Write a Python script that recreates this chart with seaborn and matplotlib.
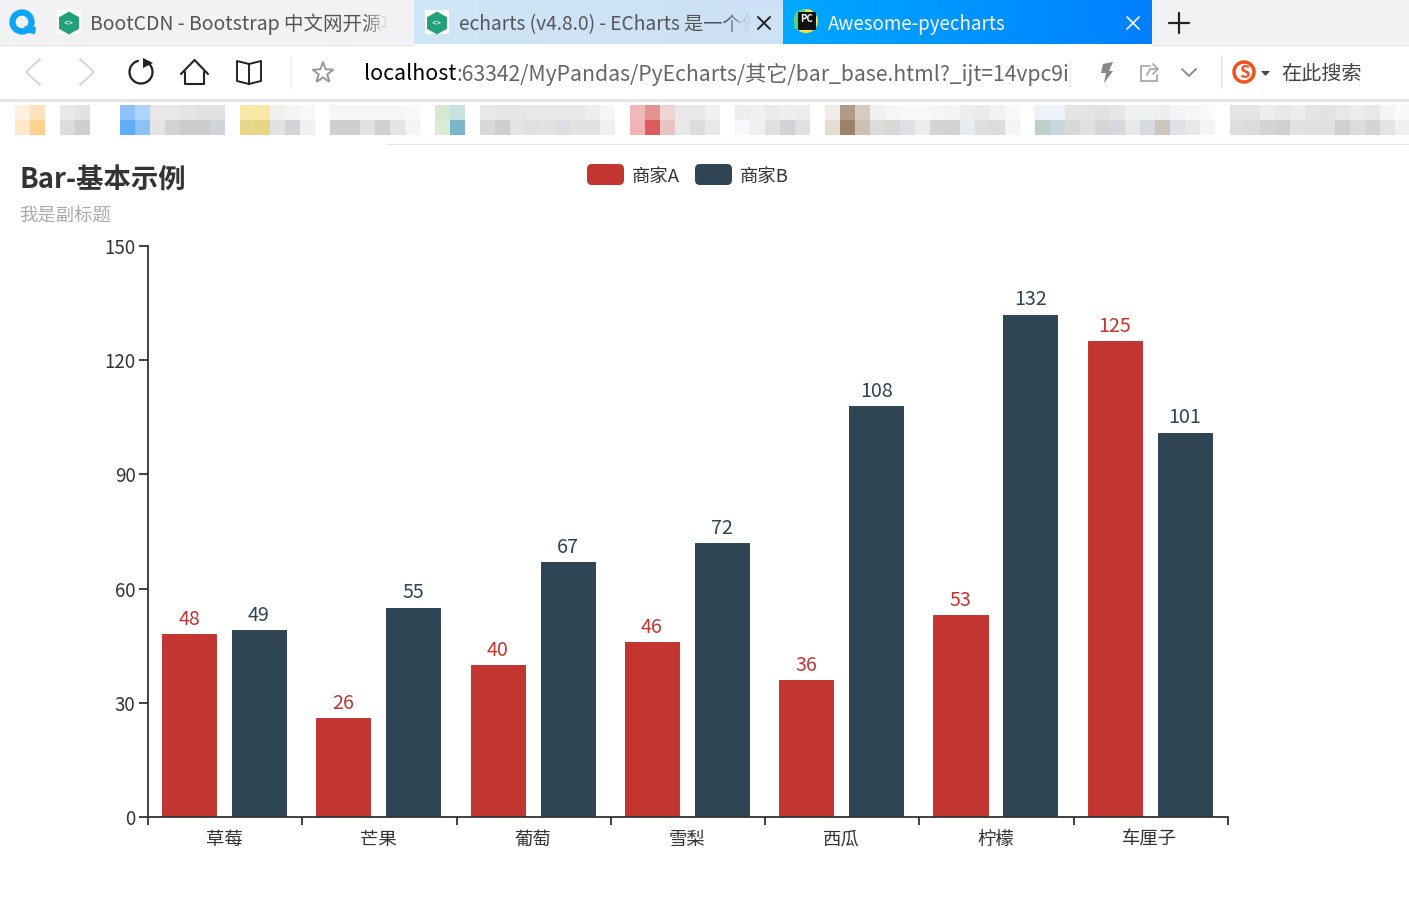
import matplotlib
matplotlib.use('Agg')
import numpy as np
import pandas as pd
import matplotlib.pyplot as plt
import seaborn as sns
from matplotlib.patches import Rectangle, FancyBboxPatch, Circle, Polygon, RegularPolygon

# Chart values
fruits = ['草莓', '芒果', '葡萄', '雪梨', '西瓜', '柠檬', '车厘子']
shop_a = [48, 26, 40, 46, 36, 53, 125]
shop_b = [49, 55, 67, 72, 108, 132, 101]
series_names = ['商家A', '商家B']
y_ticks = [0, 30, 60, 90, 120, 150]
title_text = 'Bar-基本示例'
subtitle_text = '我是副标题'

# Browser window texts
tab_titles = ['BootCDN - Bootstrap 中文网开源项', 'echarts (v4.8.0) - ECharts 是一个使', 'Awesome-pyecharts']
url_host = 'localhost'
url_rest = ':63342/MyPandas/PyEcharts/其它/bar_base.html?_ijt=14vpc9i'
search_hint = '在此搜索'

RED = '#c23531'
NAVY = '#2f4554'
AXIS = '#333333'
W, H = 1409, 899

sns.set_theme(style='white')
plt.rcParams['font.family'] = ['Noto Sans CJK SC', 'DejaVu Sans']

fig = plt.figure(figsize=(W / 100, H / 100), dpi=100, facecolor='white')

# Bar chart, placed at the pixel box of the reference
ax = fig.add_axes([148 / W, 1 - 817 / H, (1228 - 148) / W, (817 - 246) / H])
df = pd.DataFrame({
    'fruit': fruits * 2,
    'value': shop_a + shop_b,
    'shop': [series_names[0]] * len(fruits) + [series_names[1]] * len(fruits),
})
sns.barplot(data=df, x='fruit', y='value', hue='shop', palette=[RED, NAVY],
            width=0.907, gap=0.228, saturation=1, legend=False, ax=ax)

for bars, color in zip(ax.containers, [RED, NAVY]):
    ax.bar_label(bars, color=color, fontsize=14.2, padding=3)
    for bar in bars:
        bar.set_edgecolor(color)
        bar.set_linewidth(0.7)

# the reference bars and labels sit about 1 px left of the category centres
shift = 0.007
ax.set_xlim(-0.5 + shift, len(fruits) - 0.5 + shift)
ax.set_ylim(0, 150)
ax.set_yticks(y_ticks)
ax.set_xlabel('')
ax.set_ylabel('')
ax.set_xticks(range(len(fruits)))
ax.set_xticklabels(fruits)
ax.set_xticks(np.arange(-0.5 + shift, len(fruits)), minor=True)
ax.tick_params(axis='x', which='major', length=0, pad=10, labelsize=13.2, labelcolor=AXIS)
ax.tick_params(axis='x', which='minor', length=6, width=1.3, color=AXIS, bottom=True)
ax.tick_params(axis='y', length=6.5, width=1.3, color=AXIS, pad=2.5, labelsize=13.5, labelcolor=AXIS, left=True)
sns.despine(ax=ax)
for side in ['left', 'bottom']:
    ax.spines[side].set_color(AXIS)
    ax.spines[side].set_linewidth(1.3)

# Overlay in pixel coordinates for title, legend and the browser window
ov = fig.add_axes([0, 0, 1, 1], zorder=5)
ov.set_xlim(0, W)
ov.set_ylim(H, 0)
ov.axis('off')
ov.patch.set_alpha(0)

ov.text(19.5, 180, title_text, fontsize=19.7, fontweight='bold', color='#333333', va='center')
ov.text(19, 217, subtitle_text, fontsize=13.2, color='#aaaaaa', va='center')
for x, name, color in [(587, series_names[0], RED), (695, series_names[1], NAVY)]:
    ov.add_patch(FancyBboxPatch((x + 3, 167), 31, 15, boxstyle='round,pad=3,rounding_size=5', fc=color, ec='none'))
    ov.text(x + 45, 177, name, fontsize=13.2, color='#333333', va='center')


def band(x0, x1, y0, y1, c0, c1):
    # horizontal gradient between two colours
    grad = np.linspace(0, 1, 64)[None, :, None]
    a = np.array(matplotlib.colors.to_rgb(c0))[None, None, :]
    b = np.array(matplotlib.colors.to_rgb(c1))[None, None, :]
    ov.imshow(a * (1 - grad) + b * grad, extent=[x0, x1, y1, y0], aspect='auto', zorder=1)


def fade(x0, x1, y0, y1, color):
    # fades tab text out towards its right end
    steps = 14
    step = (x1 - x0) / steps
    for i in range(steps):
        ov.add_patch(Rectangle((x0 + i * step, y0), step + 0.5, y1 - y0, fc=color, ec='none',
                               alpha=(i + 1) / steps, zorder=3))


# Tab strip
band(0, W, 0, 44, '#f2f2f5', '#f2f2f5')
band(414, 783, 0, 44, '#cfe6f6', '#cde0f5')
band(783, 1152, 0, 44, '#00a8ff', '#0080ff')
ov.plot([0, 414], [44.5, 44.5], color='#e2e2e2', lw=1, zorder=2)
ov.plot([1152, W], [44.5, 44.5], color='#e2e2e2', lw=1, zorder=2)

ov.add_patch(Circle((22, 22), 9.5, fc='none', ec='#0aa5f5', lw=4.5, zorder=2))
ov.add_patch(Polygon([[24, 26], [36, 27], [35, 34], [28, 33]], fc='#0aa5f5', ec='none', zorder=2))
for cx in [69, 437]:
    ov.add_patch(Rectangle((cx - 12, 10), 24, 24, fc='white', ec='none', zorder=2))
    ov.add_patch(RegularPolygon((cx, 23), 6, radius=11.5, fc='#21a179', ec='none', zorder=3))
    ov.text(cx, 23.5, '<>', fontsize=6.5, color='white', ha='center', va='center', zorder=4)
ov.add_patch(Circle((806, 21), 12, fc='#f5e642', ec='none', zorder=2))
ov.add_patch(Polygon([[795, 12], [806, 9], [800, 30], [794, 28]], fc='#3ddc84', ec='none', zorder=2))
ov.add_patch(Rectangle((798, 12), 18, 18, fc='#111111', ec='none', zorder=3))
ov.text(807, 19, 'PC', fontsize=7, color='white', fontweight='bold', ha='center', va='center', zorder=4)

ov.text(90, 24.5, tab_titles[0], fontsize=14, color='#555555', va='center', zorder=2)
ov.text(459, 24.5, tab_titles[1], fontsize=13.8, color='#555555', va='center', zorder=2)
ov.text(828, 24.5, tab_titles[2], fontsize=13.5, color='white', va='center', zorder=2)
fade(365, 390, 8, 38, '#f2f2f5')
ov.add_patch(Rectangle((390, 8), 24, 30, fc='#f2f2f5', ec='none', zorder=3))
fade(728, 752, 8, 38, '#cde2f5')
ov.add_patch(Rectangle((752, 8), 31, 30, fc='#cde2f5', ec='none', zorder=3))

for cx, color, lw in [(764, '#222222', 1.4), (1133, 'white', 1.2)]:
    ov.plot([cx - 6, cx + 6], [17, 29], color=color, lw=lw, zorder=4)
    ov.plot([cx - 6, cx + 6], [29, 17], color=color, lw=lw, zorder=4)
ov.plot([1169, 1189], [23, 23], color='#222222', lw=1.6)
ov.plot([1179, 1179], [13, 33], color='#222222', lw=1.6)

# Toolbar icons
ov.plot([40, 26, 40], [59, 72, 85], color='#d8d8d8', lw=1.6)
ov.plot([80, 94, 80], [59, 72, 85], color='#d8d8d8', lw=1.6)
t = np.radians(np.linspace(-55, 255, 60))
ov.plot(141 + 11.5 * np.cos(t), 72 + 11.5 * np.sin(t), color='#222222', lw=1.6)
ov.add_patch(Polygon([[143, 58], [153, 63], [143, 68]], fc='#222222', ec='none'))
ov.plot([181, 194.5, 208], [74, 60, 74], color='#222222', lw=1.5)
ov.plot([185, 185, 204, 204], [72, 84, 84, 72], color='#222222', lw=1.5)
ov.plot([249, 237, 237, 249, 261, 261, 249, 249], [64, 61, 81, 84, 81, 61, 64, 84], color='#222222', lw=1.4)
ov.plot([290.5, 290.5], [56, 88], color='#eeeeee', lw=1)
star = [(323 + r * np.sin(a), 73 - r * np.cos(a))
        for a, r in zip(np.linspace(0, 2 * np.pi, 10, endpoint=False), [11, 4.5] * 5)]
ov.add_patch(Polygon(star, fc='none', ec='#999999', lw=1.4))

host = ov.text(364, 74.5, url_host, fontsize=15.4, color='#000000', va='center')
rest = ov.text(457, 74.5, url_rest, fontsize=15.25, color='#666666', va='center')
rest.set_clip_on(True)
rest.set_clip_path(Rectangle((457, 50), 611, 45, transform=ov.transData))
ov.plot([1069.5, 1069.5], [60, 86], color='#eeeeee', lw=1)

ov.add_patch(Polygon([[1103, 64], [1113, 62], [1109, 71], [1113, 71], [1104, 83], [1106, 73], [1101, 73]],
                     fc='#888888', ec='none'))
ov.plot([1150, 1141, 1141, 1157, 1157], [66, 66, 81, 81, 75], color='#aaaaaa', lw=1.3)
ov.plot([1147, 1150, 1157], [75, 69, 69], color='#aaaaaa', lw=1.3)
ov.plot([1153, 1158, 1153], [64, 69, 74], color='#aaaaaa', lw=1.3)
ov.plot([1182, 1189, 1196], [69, 76, 69], color='#888888', lw=1.3)
ov.plot([1222, 1222], [56, 88], color='#e4e4e4', lw=1.2)
ov.add_patch(Circle((1244, 72), 10, fc='white', ec='#f4511e', lw=2.5))
ov.text(1244.5, 72.5, 'S', fontsize=12, fontweight='bold', color='#f4511e', ha='center', va='center')
ov.add_patch(Polygon([[1261, 71], [1270, 71], [1265.5, 76]], fc='#444444', ec='none'))
ov.text(1281, 74.5, search_hint, fontsize=14.5, color='#444444', va='center')
ov.plot([0, W], [100, 100], color='#e4e4e4', lw=2)

# Blurred bookmark bar, cells of 15 px in two rows
mosaic = [
    (15, ['#fff0e0', '#ffe0bd'], ['#ffe8cc', '#ffd08f']),
    (60, ['#e8e8e8', '#e2e2e2'], ['#dcdcdc', '#cfcfcf']),
    (120, ['#8fc0f8', '#aed6fb', '#e8e8e8', '#e8e8e8', '#e4e4e4', '#e2e2e2', '#e2e2e2'],
     ['#62adf8', '#8cc2f8', '#e4e4e4', '#d2d2d2', '#cccccc', '#cccccc', '#d0d4d6']),
    (240, ['#f8e8a8', '#f8e8a8', '#f0f0ee', '#f4f4f4', '#f8f8f8'],
     ['#e8d68a', '#e5d585', '#e2e2e0', '#d2d4d6', '#f0f0f0']),
    (330, ['#f6f6f6', '#f6f6f6', '#f6f6f6', '#f6f6f6', '#f6f6f6', '#f8f8f8'],
     ['#cfcfcf', '#cfcfcf', '#e0e2e2', '#d0d0d2', '#e4e4e4', '#f4f4f4']),
    (435, ['#d8e8d0', '#c8e0e0'], ['#dcebd4', '#7cb4cc']),
    (480, ['#e8e8e8', '#e6e6e6', '#e6e6e6', '#e8e8e8', '#e8e8e8', '#e8e8e8', '#e8e8e8', '#eeeeee', '#f6f6f6'],
     ['#d8d8d8', '#cfcfcf', '#e4e4e4', '#e0e0e0', '#e2e2e2', '#dcdee2', '#e2e2e2', '#e2e2e2', '#f0f0f0']),
    (630, ['#f0b8b8', '#e49292', '#f0d4d4', '#e8e8e8', '#e8e8e8', '#f0f0f0'],
     ['#f0b4b4', '#dc5c5c', '#e8c4c4', '#e8e8e8', '#dcdcdc', '#e8e8e8']),
    (735, ['#eeeeee', '#f0f0f0', '#eaeaea', '#eeeeee', '#ececec'],
     ['#f6f8fa', '#f0f0f0', '#e0e0e0', '#d2d2d4', '#e0e0e0']),
    (825, ['#f0ece8', '#ae9c88', '#d8ccc0', '#f0f0f0', '#f6f6f4', '#f8f8f8', '#f8f8f8', '#f6f6f6', '#f4f4f4',
           '#eeeeee', '#eaeaea', '#f2f2f2', '#f8f8f8'],
     ['#e4ddd4', '#9c8268', '#cec0b0', '#dcdcdc', '#d8d8d4', '#e0e0e4', '#ececec', '#d4d4d4', '#d2d2d0',
      '#e8ecef', '#dededc', '#dcdcdc', '#f4f4f4']),
    (1035, ['#eef2f8', '#eef2f8', '#e4e4e4', '#e4e4e4', '#e2e2e2', '#e6e6e6', '#f0f0ee', '#eef0f2', '#f0eeec',
            '#f4f4f8', '#f6f6f6', '#fafafa'],
     ['#bccfc8', '#c8d6dc', '#d8d8d8', '#e0e0e0', '#d6d6d4', '#d6d8dc', '#e8e8e6', '#d8dce0', '#ccc6c0',
      '#e0e2e6', '#e8e8e8', '#f4f4f4']),
    (1230, ['#e4e4e4', '#e4e4e4', '#eeeeec', '#e8e8e8', '#ececec', '#e4e4e4', '#e2e2e2', '#e8e8e8', '#ececec',
            '#e8e8e8', '#f4f4f4', '#fafafa'],
     ['#dedede', '#dcdcdc', '#d4d4d4', '#d0d0d0', '#e2e2e2', '#e0e0e0', '#e0e0e0', '#d0d0d0', '#dcdcdc',
      '#d4d4d4', '#e4e4e4', '#f0f0f0']),
]
for start, top, bottom in mosaic:
    for i, (c_top, c_bottom) in enumerate(zip(top, bottom)):
        ov.add_patch(Rectangle((start + i * 15, 105), 15, 15, fc=c_top, ec='none'))
        ov.add_patch(Rectangle((start + i * 15, 120), 15, 15, fc=c_bottom, ec='none'))
ov.plot([387, W], [143.5, 143.5], color='#e8e8e8', lw=1)

ov.set_xlim(0, W)
ov.set_ylim(H, 0)

fig.savefig('out.png', dpi=100, facecolor='white')
